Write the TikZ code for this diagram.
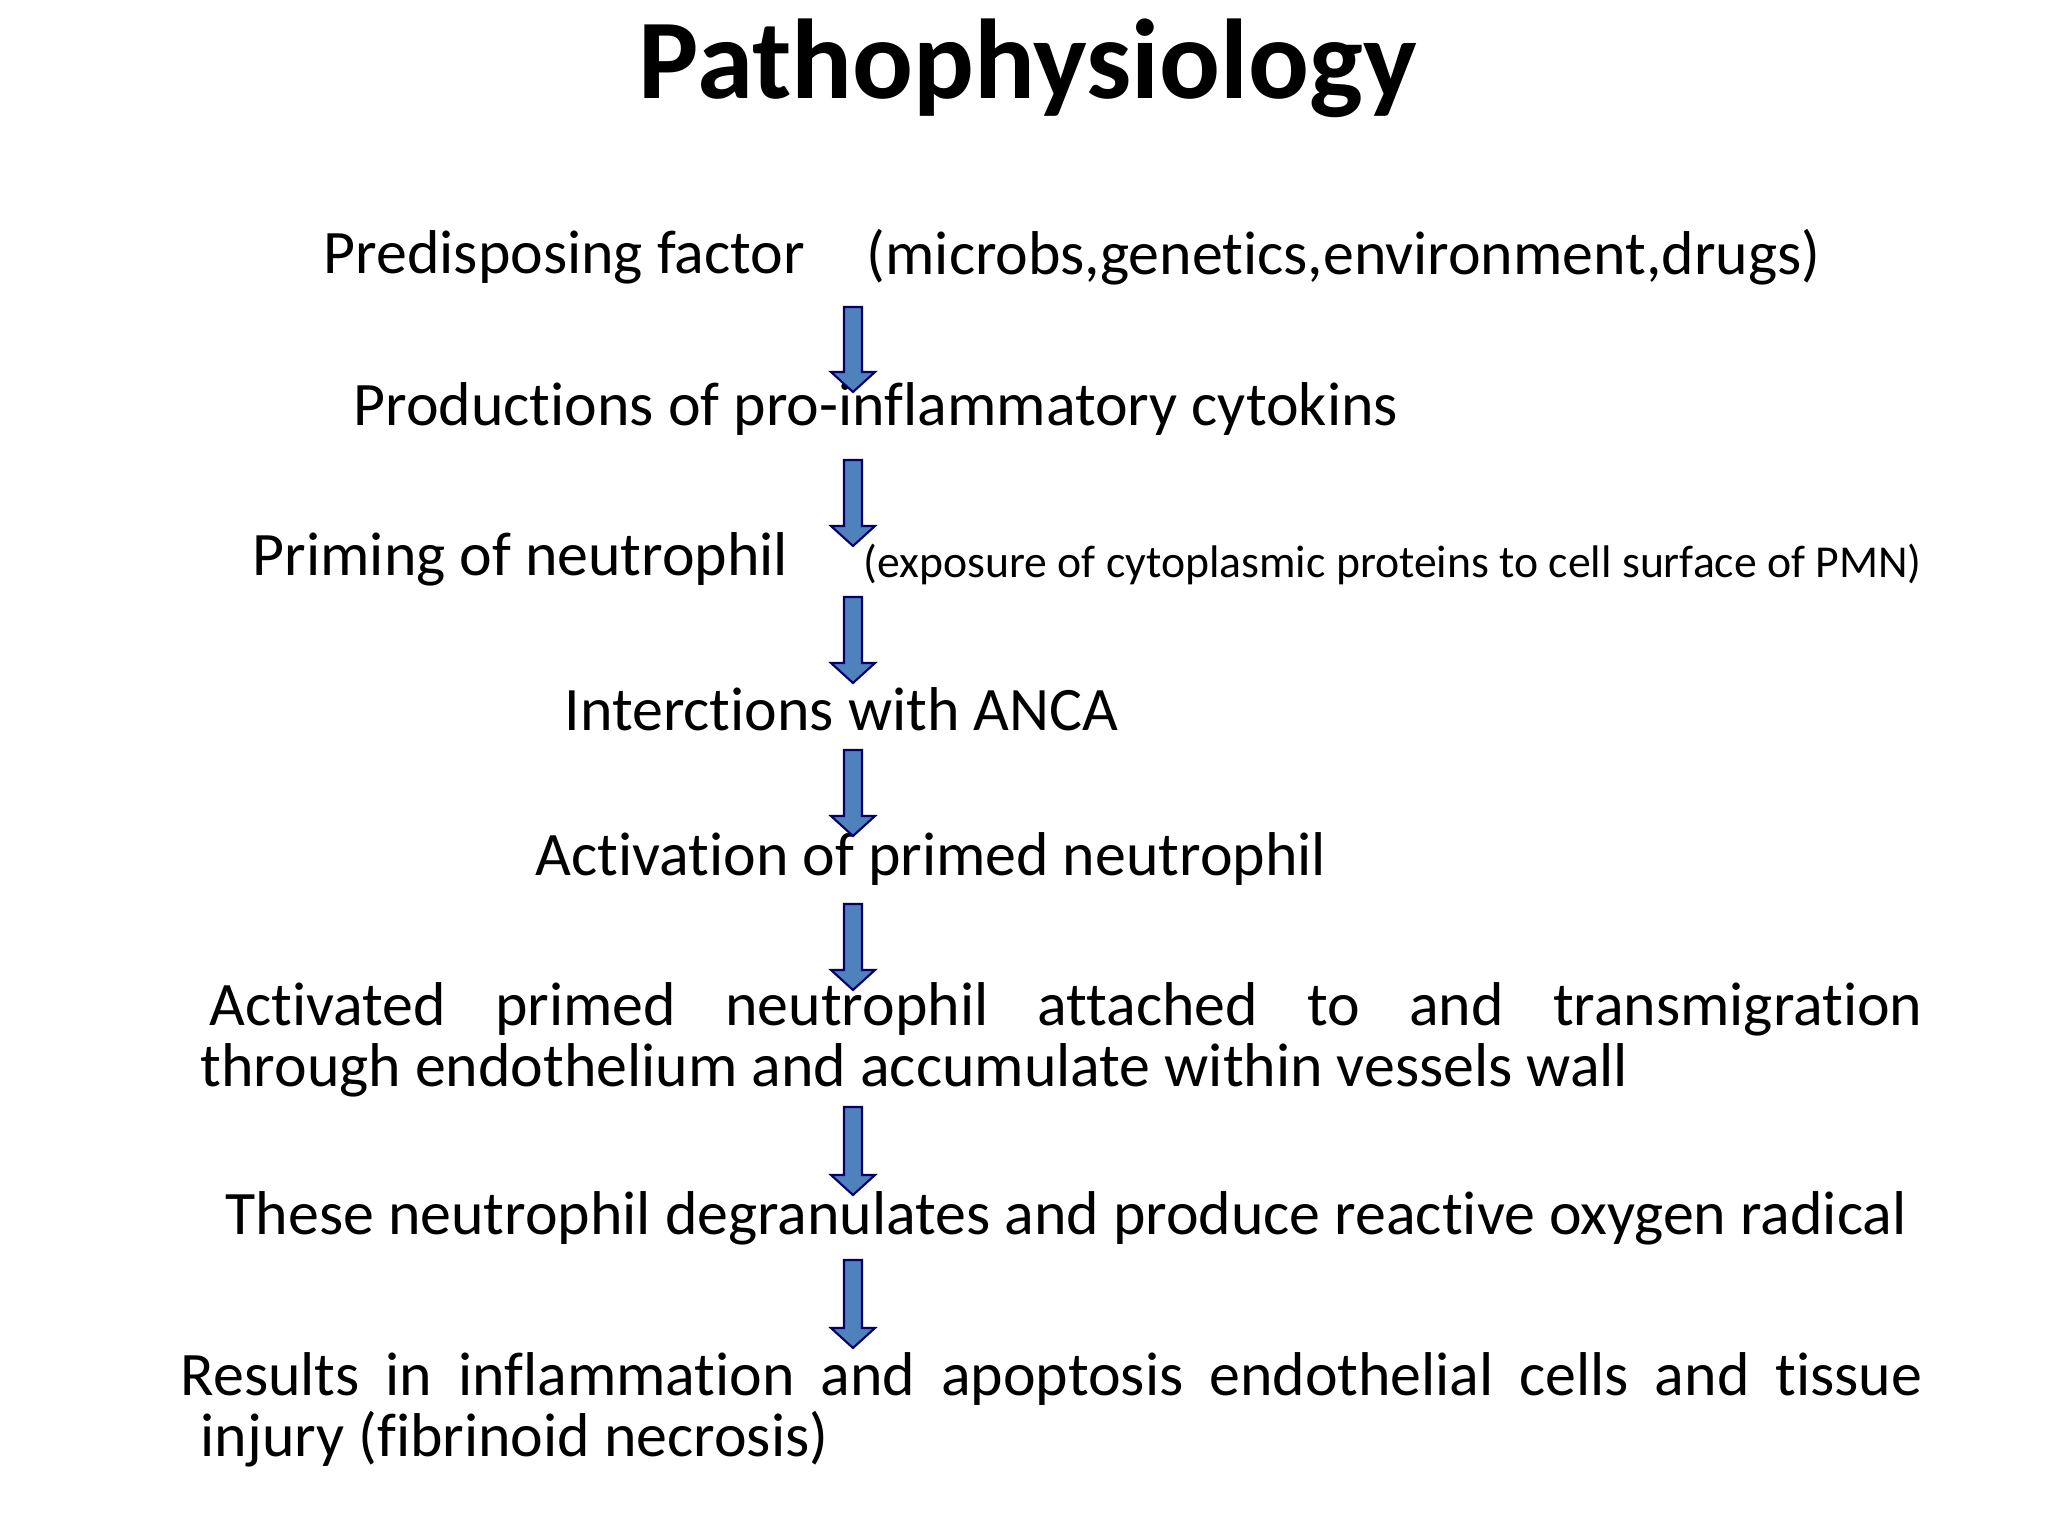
\documentclass[tikz,border=0pt]{standalone}
\usepackage{fontspec}
\setmainfont[Ligatures={NoCommon}]{Carlito}
\begin{document}
\begin{tikzpicture}[x=1cm,y=1cm,
  txt/.style={anchor=west,inner sep=0pt,font=\fontsize{17.6}{18}\selectfont},
  small/.style={anchor=west,inner sep=0pt,font=\fontsize{13}{15}\selectfont},
  par/.style={anchor=north west,inner sep=0pt,align=left,font=\fontsize{17.6}{17.2}\selectfont},
  blk/.style={fill=arrowfill,draw=blue!40!black,line width=0.6pt}]
\definecolor{arrowfill}{HTML}{4F81BD}
\useasboundingbox (0,0) rectangle (20.48,-15.36);
\newcommand{\blockarrow}[3]{% x, ytop, ybottom
  \path[blk] (#1-0.09,#2) -- (#1+0.09,#2) -- (#1+0.09,#3+0.2) -- (#1+0.22,#3+0.2) -- (#1,#3) -- (#1-0.22,#3+0.2) -- (#1-0.09,#3+0.2) -- cycle;}
\node[inner sep=0pt,font=\bfseries\fontsize{32.3}{36}\selectfont] (title) at (10.28,-0.68) {Pathophysiology};
\node[txt] (l1) at (3.23,-2.57) {Predisposing factor};
\node[txt] (l1b) at (8.66,-2.57) {(microbs,genetics,environment,drugs)};
\node[txt] (l2) at (3.53,-4.09) {Productions of pro-inflammatory cytokins};
\node[txt] (l3) at (2.52,-5.59) {Priming of neutrophil};
\node[small] (l3b) at (8.63,-5.64) {(exposure of cytoplasmic proteins to cell surface of PMN)};
\node[txt] (l4) at (5.64,-7.09) {Interctions with ANCA};
\node[txt] (l5) at (5.35,-8.59) {Activation of primed neutrophil};
\node[par] (l6) at (2.0,-9.82) {\hspace*{0.09cm}\makebox[17.13cm][s]{Activated primed neutrophil attached to and transmigration}\\through endothelium and accumulate within vessels wall};
\node[txt] (l7) at (2.25,-12.18) {These neutrophil degranulates and produce reactive oxygen radical};
\node[par] (l8) at (1.8,-13.52) {\makebox[17.42cm][s]{Results in inflammation and apoptosis endothelial cells and tissue}\\\hspace*{0.2cm}injury (fibrinoid necrosis)};
\blockarrow{8.53}{-3.07}{-3.92}
\blockarrow{8.53}{-4.60}{-5.46}
\blockarrow{8.53}{-5.97}{-6.83}
\blockarrow{8.53}{-7.50}{-8.36}
\blockarrow{8.53}{-9.04}{-9.90}
\blockarrow{8.53}{-11.07}{-11.95}
\blockarrow{8.53}{-12.60}{-13.48}
\end{tikzpicture}
\end{document}
